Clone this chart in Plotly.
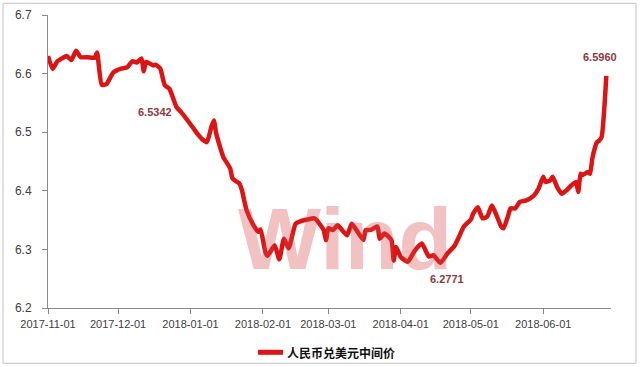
import plotly.graph_objects as go

# ---- data ----
dates = [
    "2017-11-01", "2017-11-03", "2017-11-05", "2017-11-07", "2017-11-09", "2017-11-11",
    "2017-11-13", "2017-11-15", "2017-11-18", "2017-11-21", "2017-11-22", "2017-11-24",
    "2017-11-26", "2017-11-29", "2017-12-02", "2017-12-05", "2017-12-07", "2017-12-09",
    "2017-12-11", "2017-12-12", "2017-12-13", "2017-12-16", "2017-12-17", "2017-12-19",
    "2017-12-21", "2017-12-23", "2017-12-26", "2017-12-28", "2018-01-02", "2018-01-04",
    "2018-01-06", "2018-01-08", "2018-01-10", "2018-01-11", "2018-01-12", "2018-01-15",
    "2018-01-18", "2018-01-19", "2018-01-22", "2018-01-23", "2018-01-25", "2018-01-28",
    "2018-01-30", "2018-01-31", "2018-02-02", "2018-02-03", "2018-02-06", "2018-02-08",
    "2018-02-10", "2018-02-12", "2018-02-15", "2018-02-17", "2018-02-23", "2018-02-24",
    "2018-02-27", "2018-02-28", "2018-03-01", "2018-03-03", "2018-03-05", "2018-03-09",
    "2018-03-11", "2018-03-13", "2018-03-16", "2018-03-17", "2018-03-19", "2018-03-22",
    "2018-03-23", "2018-03-25", "2018-03-28", "2018-03-29", "2018-03-30", "2018-04-01",
    "2018-04-04", "2018-04-07", "2018-04-10", "2018-04-13", "2018-04-15", "2018-04-18",
    "2018-04-21", "2018-04-24", "2018-04-26", "2018-04-28", "2018-05-01", "2018-05-02",
    "2018-05-04", "2018-05-06", "2018-05-08", "2018-05-10", "2018-05-12", "2018-05-14",
    "2018-05-15", "2018-05-17", "2018-05-18", "2018-05-20", "2018-05-22", "2018-05-25",
    "2018-05-28", "2018-05-30", "2018-06-01", "2018-06-02", "2018-06-04", "2018-06-05",
    "2018-06-07", "2018-06-09", "2018-06-11", "2018-06-13", "2018-06-15", "2018-06-16",
    "2018-06-17", "2018-06-18", "2018-06-20", "2018-06-21", "2018-06-22", "2018-06-23",
    "2018-06-24", "2018-06-25", "2018-06-26", "2018-06-28",
]
values = [
    6.630, 6.608, 6.621, 6.626, 6.630, 6.623,
    6.639, 6.628, 6.628, 6.627, 6.636, 6.581,
    6.582, 6.602, 6.608, 6.611, 6.621, 6.619,
    6.626, 6.604, 6.620, 6.614, 6.615, 6.609,
    6.580, 6.574, 6.543, 6.5342, 6.508, 6.497,
    6.488, 6.483, 6.510, 6.520, 6.498, 6.458,
    6.438, 6.421, 6.412, 6.401, 6.367, 6.341,
    6.330, 6.334, 6.296, 6.289, 6.307, 6.283,
    6.318, 6.302, 6.344, 6.348, 6.353, 6.350,
    6.333, 6.316, 6.336, 6.333, 6.341, 6.324,
    6.344, 6.333, 6.316, 6.333, 6.333, 6.339,
    6.318, 6.327, 6.316, 6.281, 6.304, 6.287,
    6.279, 6.298, 6.310, 6.288, 6.290, 6.2771,
    6.293, 6.306, 6.322, 6.339, 6.351, 6.361,
    6.372, 6.353, 6.356, 6.375, 6.358, 6.339,
    6.336, 6.358, 6.370, 6.370, 6.381, 6.384,
    6.392, 6.404, 6.424, 6.415, 6.418, 6.424,
    6.406, 6.395, 6.401, 6.409, 6.415, 6.398,
    6.429, 6.427, 6.432, 6.429, 6.455, 6.472,
    6.483, 6.486, 6.492, 6.5960,
]
series_name = "人民币兑美元中间价"
tick_dates = ["2017-11-01", "2017-12-01", "2018-01-01", "2018-02-01",
              "2018-03-01", "2018-04-01", "2018-05-01", "2018-06-01"]
y_ticks = [6.2, 6.3, 6.4, 6.5, 6.6, 6.7]
labelled_dates = ["2017-12-28", "2018-04-18", "2018-06-28"]

LINE = "#dc1414"
LABEL = "#8c3a3e"
AXIS = "#8a8a8a"
TICKFONT = dict(family="Liberation Sans, Arial, sans-serif", size=11, color="#404040")

fig = go.Figure()
fig.add_trace(go.Scatter(
    x=dates, y=values, mode="lines", name=series_name, showlegend=False,
    line=dict(color=LINE, width=4.5, shape="spline", smoothing=0.5),
))

# value labels
offsets = {
    "2017-12-28": dict(xanchor="right", yanchor="middle", xshift=-7, yshift=0),
    "2018-04-18": dict(xanchor="center", yanchor="top", xshift=7, yshift=-8),
    "2018-06-28": dict(xanchor="center", yanchor="bottom", xshift=-6, yshift=11),
}
for d in labelled_dates:
    v = values[dates.index(d)]
    fig.add_annotation(x=d, y=v, xref="x", yref="y", text=f"<b>{v:.4f}</b>",
                       showarrow=False, font=dict(family="Liberation Sans, Arial, sans-serif",
                                                  size=11, color=LABEL),
                       **offsets[d])

# watermark
fig.add_annotation(x=0.5275, y=0.236, xref="paper", yref="paper", text="<b>Wind</b>",
                   showarrow=False, xanchor="center", yanchor="middle",
                   font=dict(family="Liberation Sans, Arial, sans-serif", size=88,
                             color="rgba(215,70,70,0.33)"))

# legend (drawn manually so it does not push the plot area)
fig.add_shape(type="line", xref="paper", yref="paper", x0=0.3730, x1=0.4174,
              y0=-0.1512, y1=-0.1512, line=dict(color=LINE, width=5))
fig.add_annotation(x=0.4210, y=-0.1512, xref="paper", yref="paper",
                   text="<b>" + series_name + "</b>", showarrow=False,
                   xanchor="left", yanchor="middle",
                   font=dict(family="Noto Sans CJK SC, sans-serif", size=12, color="#111111"))

# outer frame
fig.add_shape(type="rect", xref="paper", yref="paper", x0=-0.0799, x1=1.0444,
              y0=-0.1887, y1=1.040, line=dict(color="#c4c4c4", width=1))

fig.update_layout(
    width=640, height=367,
    margin=dict(l=48, r=29, t=15, b=59, autoexpand=False),
    paper_bgcolor="white", plot_bgcolor="white",
    showlegend=False,
    xaxis=dict(
        type="date", range=["2017-11-01", "2018-06-30"],
        tickvals=tick_dates, ticktext=tick_dates,
        showgrid=False, zeroline=False, automargin=False,
        showline=True, linecolor=AXIS, linewidth=1,
        ticks="outside", ticklen=5, tickcolor=AXIS,
        tickfont=TICKFONT, ticklabelstandoff=1,
    ),
    yaxis=dict(
        range=[6.2, 6.7], tickvals=y_ticks, tickformat=".1f",
        showgrid=False, zeroline=False, automargin=False,
        showline=True, linecolor=AXIS, linewidth=1,
        ticks="outside", ticklen=5, tickcolor=AXIS,
        tickfont=dict(family="Liberation Sans, Arial, sans-serif", size=12, color="#404040"),
        ticklabelstandoff=8,
    ),
)

fig.write_html("out.html")
